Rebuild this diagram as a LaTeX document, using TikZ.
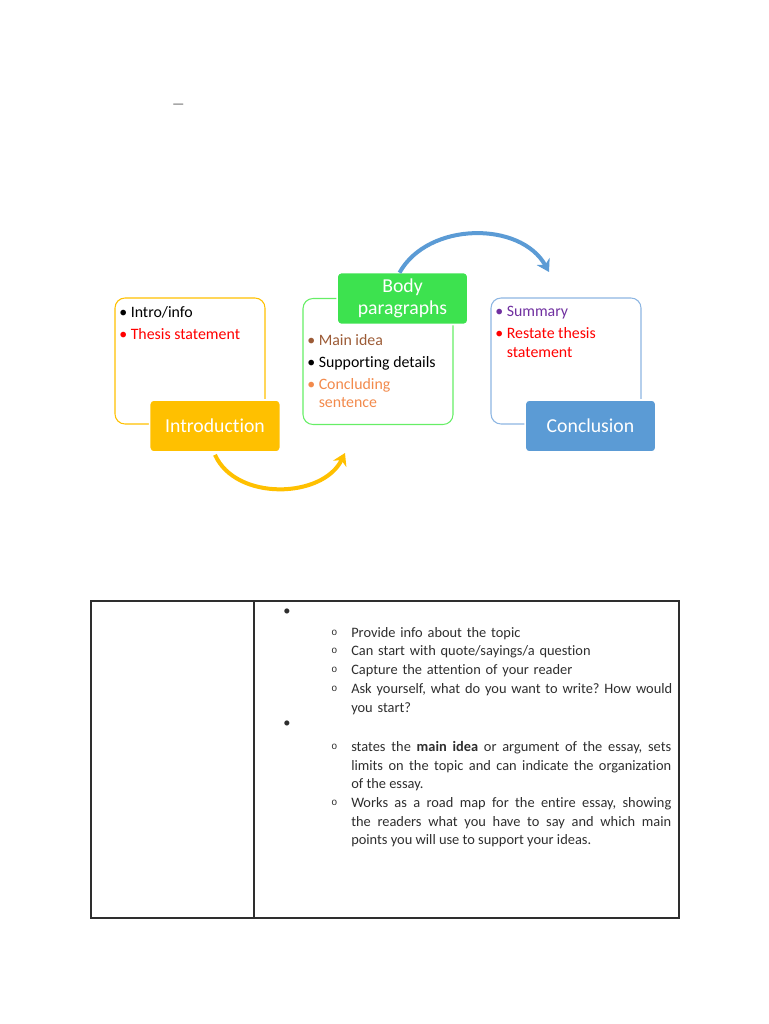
\documentclass[tikz,border=0pt]{standalone}
\usepackage{fontspec}
\setmainfont{Carlito}[Ligatures=NoCommon]
\newfontfamily\monofont{Liberation Mono}
\usetikzlibrary{arrows.meta}
\usetikzlibrary{positioning}

\definecolor{introyellow}{HTML}{FFC000}
\definecolor{bodygreen}{HTML}{3DE24F}
\definecolor{bodyline}{HTML}{66EE66}
\definecolor{endblue}{HTML}{5B9BD5}
\definecolor{endline}{HTML}{8DB6E2}
\definecolor{mainbrown}{HTML}{9C5B36}
\definecolor{concorange}{HTML}{F28A4C}
\definecolor{sumpurple}{HTML}{7030A0}
\definecolor{tablegray}{HTML}{2E2E2E}

\frenchspacing
\hyphenpenalty=10000
\exhyphenpenalty=10000

\begin{document}
\begin{tikzpicture}[x=0.75pt,y=0.75pt,
    outline/.style={draw, rounded corners=7.5pt, line width=0.8pt,
        minimum width=112.5pt, minimum height=94.5pt},
    title/.style={draw=white, line width=1.2pt, rounded corners=3pt,
        text=white, font=\fontsize{14.8}{16.5}\selectfont, align=center,
        minimum width=98pt, minimum height=39pt},
    items/.style={anchor=north west, align=left, inner sep=0pt,
        font=\fontsize{11.9}{14}\selectfont},
    flow/.style={line width=3pt, -{Stealth[length=9pt,width=11pt]}},
    row/.style={anchor=north west, inner sep=0pt, text width=240pt,
        text=tablegray, font=\fontsize{10.8}{14.1}\selectfont},
    listmark/.style={anchor=north west, inner sep=0pt, text=tablegray,
        font=\fontsize{10.8}{14.1}\selectfont},
]
    \useasboundingbox (0,0) rectangle (768,-1024);

    \node[anchor=base west, inner sep=0pt, text=gray, font=\fontsize{15}{17}\selectfont] (dash) at (173,-103) {\_};

    % outline boxes
    \node[outline, draw=introyellow] (introbox) at (190,-361) {};
    \node[outline, draw=bodyline] (bodybox) at (378,-361.5) {};
    \node[outline, draw=endline] (endbox) at (566,-361) {};

    % titles
    \node[title, fill=introyellow] (intro) at (215,-426) {Introduction};
    \node[title, fill=bodygreen] (body) at (402.5,-298.5) {Body\\paragraphs};
    \node[title, fill=endblue] (concl) at (590.5,-426) {Conclusion};

    % bullet texts
    \node[items] (introtext) at (119,-306) {%
        \textbullet\ Intro/info\\[2.5pt]
        \textcolor{red}{\textbullet\ Thesis statement}};
    \node[items] (bodytext) at (307,-334) {%
        \textcolor{mainbrown}{\textbullet\ Main idea}\\[2.5pt]
        \textbullet\ Supporting details\\[2.5pt]
        \textcolor{concorange}{\textbullet\ Concluding}\\
        \textcolor{concorange}{\hphantom{\textbullet\ }sentence}};
    \node[items] (endtext) at (495,-306) {%
        \textcolor{sumpurple}{\textbullet\ Summary}\\[2.5pt]
        \textcolor{red}{\textbullet\ Restate thesis}\\
        \textcolor{red}{\hphantom{\textbullet\ }statement}};

    % arrows
    \coordinate (intoend) at (345,-453);
    \coordinate (intoconcl) at (549,-272);
    \draw[flow, introyellow] (intro.south) ++(0,-2) to[out=-66,in=-116] (intoend);
    \draw[flow, endblue] (body.north) ++(-3,-1) to[out=61,in=119] (intoconcl);

    % table
    \draw[tablegray, line width=1.1pt] (91,-601) rectangle (679,-918);
    \draw[tablegray, line width=1.1pt] (254,-601) -- (254,-918);

    \node[listmark] (dot1) at (283,-609) {\textbullet};
    \foreach \y/\name in {627/s1, 645/s2, 664/s3, 683/s4, 741/s5, 797/s6} {
        \node[listmark, font=\monofont\fontsize{7.5}{14.1}\selectfont] (\name) at (331,-\y-3) {o};
    }
    \node[row] (r1) at (351,-627) {Provide info about the topic};
    \node[row] (r2) at (351,-645) {Can start with quote/sayings/a question};
    \node[row] (r3) at (351,-664) {Capture the attention of your reader};
    \node[row, align=left, text width=260pt] (r4) at (351,-683) {Ask yourself, what do you want to write? How would\\you start?};
    \node[listmark] (dot2) at (283,-721) {\textbullet};
    \node[row, align=justify] (r5) at (351,-741) {states the \textbf{main idea} or argument of the essay, sets\linebreak limits on the topic and can indicate the organization\linebreak of the essay.};
    \node[row, align=justify] (r6) at (351,-797) {Works as a road map for the entire essay, showing\linebreak the readers what you have to say and which main\linebreak points you will use to support your ideas.};
\end{tikzpicture}
\end{document}
